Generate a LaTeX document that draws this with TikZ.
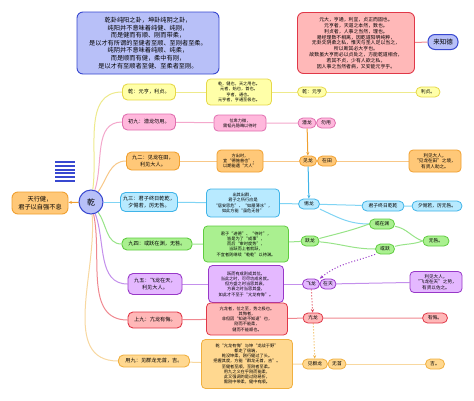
\documentclass[tikz,border=0pt]{standalone}
\usepackage{fontspec}
\setmainfont{Noto Sans CJK SC}
\usetikzlibrary{arrows.meta}
\definecolor{yelF}{HTML}{FFFFA8}\definecolor{yelD}{HTML}{E6D84A}\definecolor{yelL}{HTML}{EEEA8C}
\definecolor{pinF}{HTML}{FFB8DC}\definecolor{pinD}{HTML}{E070B0}\definecolor{pinL}{HTML}{F4A8CC}
\definecolor{oraF}{HTML}{FFC878}\definecolor{oraD}{HTML}{F0A030}\definecolor{oraL}{HTML}{F8C888}
\definecolor{cyaF}{HTML}{B8EAFF}\definecolor{cyaD}{HTML}{40B4E8}\definecolor{cyaL}{HTML}{80D4F4}
\definecolor{greF}{HTML}{AAF090}\definecolor{greD}{HTML}{60CC40}\definecolor{greL}{HTML}{98E488}
\definecolor{purF}{HTML}{E4B8FF}\definecolor{purD}{HTML}{9838C8}\definecolor{purL}{HTML}{C490EC}
\definecolor{redF}{HTML}{FFB8B8}\definecolor{redD}{HTML}{E03848}\definecolor{redL}{HTML}{F08890}
\definecolor{bluF}{HTML}{B8C0F8}\definecolor{bluD}{HTML}{3848D0}
\definecolor{lorF}{HTML}{FFD890}\definecolor{lorD}{HTML}{F0B040}\definecolor{lorL}{HTML}{F8D8A0}
\pgfdeclarelayer{bg}\pgfsetlayers{bg,main}
\newcommand\fTop{\fontsize{6.2}{7.6}\selectfont}
\newcommand\fRed{\fontsize{4.9}{5.8}\selectfont}
\newcommand\fBox{\fontsize{4.2}{5.2}\selectfont}
\newcommand\fLone{\fontsize{5.2}{6.3}\selectfont}
\newcommand\fPill{\fontsize{4.8}{5.6}\selectfont}
\begin{document}
\begin{tikzpicture}[x=1pt,y=-1pt,
  bigbox/.style={draw, rounded corners=6pt, line width=0.9pt, align=center, inner sep=1pt},
  sbox/.style={draw, rounded corners=4pt, line width=0.8pt, align=center, inner sep=1pt, font=\fBox},
  lone/.style={draw, rounded corners=5pt, line width=0.9pt, align=center, inner sep=1pt, font=\fLone},
  pill/.style={draw, rounded corners=5pt, line width=0.8pt, align=center, inner sep=1pt, font=\fPill, minimum height=10pt},
  edge/.style={line width=1pt},
  arr/.style={-{Stealth[length=3.5pt,width=3pt]}},
  yel/.style={fill=yelF, draw=yelD}, pin/.style={fill=pinF, draw=pinD},
  ora/.style={fill=oraF, draw=oraD}, cya/.style={fill=cyaF, draw=cyaD},
  gre/.style={fill=greF, draw=greD}, pur/.style={fill=purF, draw=purD},
  red/.style={fill=redF, draw=redD}, blu/.style={fill=bluF, draw=bluD},
  lor/.style={fill=lorF, draw=lorD}]
\useasboundingbox (0,0) rectangle (474,400);

% top boxes
\node[bigbox, blu, font=\fTop, minimum width=142pt, minimum height=62pt] (top) at (148,43)
 {乾卦纯阳之卦，坤卦纯阴之卦，\\纯阳并不意味着纯健、纯刚，\\而是健而有顺、刚而带柔，\\是以才有所谓的至健者至顺、至刚者至柔。\\纯阴并不意味着纯顺、纯柔，\\而是顺而有健，柔中有刚，\\是以才有至顺者至健、至柔者至刚。};
\node[bigbox, red, font=\fRed, minimum width=117pt, minimum height=61pt] (lz) at (356,43)
 {元大，亨通，利宜，贞正而固也。\\元亨者，天道之本然，数也。\\利贞者，人事之当然，理也。\\易经理数不相离，因乾道阳明纯粹，\\无卦爻阴柔之私，惟天与圣人足以当之，\\所以断其必大亨也。\\故数虽大亨而必以贞处之，方能乾道相合，\\若其不贞，少有人欲之私，\\因人事之当然者病，又安能元亨乎。};
\node[draw, blu, line width=1pt, rounded corners=7pt, minimum width=30pt, minimum height=15pt, inner sep=1pt, font=\fontsize{6.5}{7}\selectfont] (lzd) at (443,42) {来知德};

% centre
\node[circle, blu, draw, line width=1pt, minimum size=24pt, inner sep=0pt, font=\fontsize{8}{9}\selectfont] (qian) at (91,202) {乾};
\foreach \i in {0,...,5} \fill[bluD] (55,161+\i*3.8) rectangle (75,163+\i*3.8);
\node[bigbox, ora, font=\fontsize{6.2}{7.4}\selectfont, minimum width=56pt, minimum height=22pt] (xj) at (40,203) {天行健，\\君子以自强不息};

% level 1
\node[lone, yel, minimum width=53pt, minimum height=16pt] (a1) at (149,92) {乾：元亨，利贞。};
\node[lone, pin, minimum width=53pt, minimum height=16pt] (a2) at (149,122) {初九：潜龙勿用。};
\node[lone, ora, minimum width=53pt, minimum height=18pt] (a3) at (153,161) {九二：见龙在田，\\利见大人。};
\node[lone, cya, minimum width=57pt, minimum height=19pt] (a4) at (149,202) {九三：君子终日乾乾，\\夕惕若，厉无咎。};
\node[lone, gre, minimum width=70pt, minimum height=12pt] (a5) at (157,244) {九四：或跃在渊，无咎。};
\node[lone, pur, minimum width=54pt, minimum height=21pt] (a6) at (155,284) {九五：飞龙在天，\\利见大人。};
\node[lone, red, minimum width=54pt, minimum height=16pt] (a7) at (155,320) {上九：亢龙有悔。};
\node[lone, lor, minimum width=71pt, minimum height=12pt] (a8) at (154,361) {用九：见群龙无首，吉。};

% level 2
\node[sbox, yel, minimum width=65pt, minimum height=26pt] (b1) at (239,92) {乾，健也，天之用也。\\元者，始也，首也。\\亨者，通也。\\元亨者，亨通至极也。};
\node[sbox, pin, minimum width=52pt, minimum height=16pt] (b2) at (240,123) {位卑力微，\\需韬光隐晦以待时};
\node[sbox, ora, minimum width=46pt, minimum height=22pt] (b3) at (240,161) {方出时，\\宜“德施普也”，\\以期能遇“大人”};
\node[sbox, cya, minimum width=73pt, minimum height=28pt] (b4) at (243,203) {出其出群，\\君子之所行应是\\“居安思危”、“如履薄冰”，\\如此方能“虽危无咎”};
\node[sbox, gre, minimum width=85pt, minimum height=36pt] (b5) at (246,244) {君子“进德”、“待时”，\\皆是为了“成事”，\\而后“审时度势”，\\当跃而上者就跃，\\不宜者则继续“乾乾”以待渊。};
\node[sbox, pur, minimum width=75pt, minimum height=37pt] (b6) at (246,284) {跃而有成则成其位。\\当此之时，可尽功成名就。\\但方盛之时当思其衰，\\方衰之时当思其盛，\\如此才不至于“亢龙有悔”。};
\node[sbox, red, minimum width=81pt, minimum height=32pt] (b7) at (247,319) {亢龙者，位之至，势之极也。\\其悔者，\\非但因“知进不知退”也，\\刚而不能柔，\\健而不能顺也。};
\node[sbox, lor, minimum width=91pt, minimum height=49pt] (b8) at (247,364) {乾“亢龙有悔”与坤“龙战于野”\\都走了极端，\\乾没坤柔，刚行健过了头。\\把握其度，方能“群龙无首，吉”。\\至健者至顺，至刚者至柔。\\用九之义在乎刚而能柔，\\此又强调的是过刚易折，\\需刚中带柔，健中有顺。};

% level 3 and beyond
\node[pill, yel, minimum width=29pt] (c1) at (312,92) {乾：元亨};
\node[pill, yel, minimum width=24pt] (d1) at (428,92) {利贞。};
\node[pill, pin, minimum width=18pt] (c2) at (307,123) {潜龙};
\node[pill, pin, minimum width=19pt] (c2b) at (326,123) {勿用};
\node[pill, ora, minimum width=17pt] (c3) at (308,161) {见龙};
\node[pill, ora, minimum width=19pt] (c3b) at (327,161) {在田};
\node[sbox, ora, minimum width=52pt, minimum height=22pt, font=\fontsize{4.6}{5.6}\selectfont] (d3) at (435,161) {利见大人，\\“见龙在田”之境，\\有贤人助之。};
\node[pill, cya, minimum width=21pt] (c4) at (309,204) {惕龙};
\node[pill, cya, minimum width=42pt] (c4b) at (383,206) {君子终日乾乾};
\node[pill, cya, minimum width=50pt] (d4) at (437,206) {夕惕若，厉无咎。};
\node[pill, gre, minimum width=25pt] (hz) at (382,224) {或在渊};
\node[pill, gre, minimum width=18pt] (c5) at (310,241) {跃龙};
\node[pill, gre, minimum width=19pt] (hy) at (385,249) {或跃};
\node[pill, gre, minimum width=26pt] (d5) at (436,241) {无咎。};
\node[pill, pur, minimum width=17pt] (c6) at (311,284) {飞龙};
\node[pill, pur, minimum width=16pt] (c6b) at (328,284) {在天};
\node[sbox, pur, minimum width=52pt, minimum height=21pt, font=\fontsize{4.6}{5.6}\selectfont] (d6) at (436,282) {利见大人，\\“飞龙在天”之势，\\有贤以佐之。};
\node[pill, red, minimum width=20pt] (c7) at (313,318) {亢龙};
\node[pill, red, minimum width=25pt] (d7) at (435,318) {有悔。};
\node[pill, lor, minimum width=25pt] (c8) at (315,364) {见群龙};
\node[pill, lor, minimum width=18pt] (c8b) at (337,364) {无首};
\node[pill, lor, minimum width=19pt] (d8) at (435,364) {吉。};

\begin{pgfonlayer}{bg}
 \fill[white] (0,0) rectangle (474,400);
 \draw[edge, redL] (lz) -- (lzd);
 \draw[edge, oraD, arr] (qian) -- (xj);
 \draw[edge, yelL] (qian) to[out=82,in=180] (a1.west);
 \draw[edge, pinL] (qian) to[out=72,in=180] (a2.west);
 \draw[edge, oraL] (qian) to[out=55,in=180] (a3.west);
 \draw[edge, cyaL] (qian) -- (a4);
 \draw[edge, greL] (qian) to[out=-55,in=180] (a5.west);
 \draw[edge, purL] (qian) to[out=-70,in=180] (a6.west);
 \draw[edge, redL] (qian) to[out=-78,in=180] (a7.west);
 \draw[edge, lorL] (qian) to[out=-85,in=180] (a8.west);
 \draw[edge, yelL] (a1) -- (b1) -- (c1) -- (d1);
 \draw[edge, pinL] (a2) -- (b2) -- (c2);
 \draw[edge, oraL] (a3) -- (b3) -- (c3);
 \draw[edge, oraL] (c3b) -- (d3);
 \draw[edge, cyaL] (a4) -- (b4) -- (c4);
 \draw[edge, cyaL] (c4) -- (c4b) -- (d4);
 \draw[edge, cyaL] (c4) to[out=-25,in=180] (hz.west);
 \draw[edge, greL] (a5) -- (b5) -- (c5);
 \draw[edge, greL] (c5) to[out=15,in=200] (hz.west);
 \draw[edge, greL] (c5) to[out=-5,in=180] (hy.west);
 \draw[edge, greL] (hz) to[out=-10,in=160] (d5.west);
 \draw[edge, greL] (hy) to[out=15,in=200] (d5.west);
 \draw[edge, purL] (a6) -- (b6) -- (c6);
 \draw[edge, purL] (c6b) -- (d6);
 \draw[edge, redL] (a7) -- (b7) -- (c7) -- (d7);
 \draw[edge, lorL] (a8) -- (b8) -- (c8);
 \draw[edge, lorL] (c8b) -- (d8);
 \draw[edge, oraD, arr] (c2) -- (c3);
 \draw[edge, cyaD, arr] (c3) -- (c4);
 \draw[edge, purD, dotted, arr] (hy.south west) to[out=200,in=40] (c6.north east);
 \draw[edge, redD, dotted, arr] (c6) -- (c7);
 \draw[edge, lorD, dotted, arr] (c7) -- (c8);
\end{pgfonlayer}
\end{tikzpicture}
\end{document}
